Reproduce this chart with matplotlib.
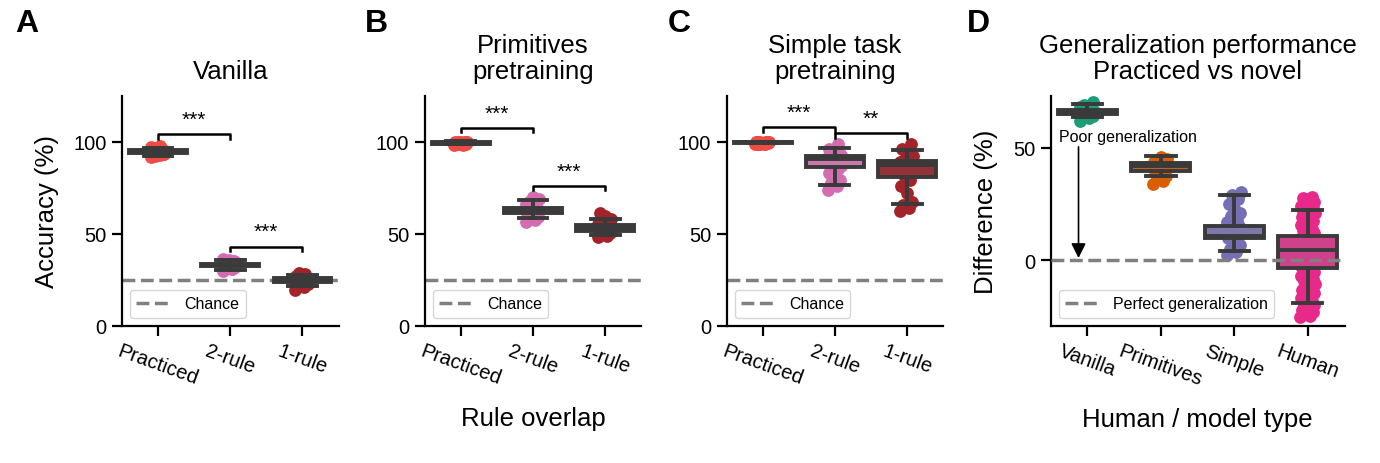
import colorsys
import numpy as np
import matplotlib
matplotlib.use("Agg")
import matplotlib.pyplot as plt
import matplotlib.colors as mcolors

plt.rcParams["font.family"] = ["Liberation Sans", "DejaVu Sans"]

# ---------------------------
# data
# ---------------------------
rule_cats = ["Practiced", "2-rule", "1-rule"]
model_cats = ["Vanilla", "Primitives", "Simple", "Human"]

rule_colors = ["#ee4b45", "#d46cb0", "#a3232a"]
model_colors = ["#1b9e77", "#d95f02", "#7570b3", "#e7298a"]

# individual runs (accuracy, %)
van_practiced = [91.5, 92.5, 93, 93.5, 94, 94, 94.5, 95, 95, 95.5, 96, 96, 96.5, 97, 97.5, 92, 93.5, 95, 96, 94.5]
van_2rule = [30, 31, 31.5, 32, 32.5, 33, 33, 33.5, 34, 34, 34.5, 35, 35.5, 36, 31, 32.5, 33.5, 34, 35, 32]
van_1rule = [19.5, 21, 22, 22.5, 23, 23.5, 24, 24.5, 25, 25, 25.5, 26, 26.5, 27, 28, 28.5, 24, 25.5, 23, 26]

prim_practiced = [98, 98.5, 99, 99, 99.5, 99.5, 100, 100, 100, 99, 98.5, 99.5, 100, 99, 98, 99.5, 100, 99, 100, 99.5]
prim_2rule = [56.5, 57.5, 58, 59, 60, 61, 61.5, 62, 62.5, 63, 63.5, 64, 65, 66, 67, 68, 69, 70, 62, 64]
prim_1rule = [48, 49, 50, 50.5, 51, 51.5, 52, 52.5, 53, 53, 53.5, 54, 55, 55.5, 56, 57, 58, 59.5, 61, 52]

simp_practiced = [98.5, 99, 99, 99.5, 99.5, 100, 100, 100, 100, 99.5, 99, 100, 99.5, 100, 98.5, 99, 100, 99.5, 100, 99.8]
simp_2rule = [74, 76, 77.5, 79, 81, 83, 85, 86, 87, 88, 89, 90, 91, 91.5, 92, 92.5, 93, 94, 96, 98.5]
simp_1rule = [62.5, 64, 65.5, 67, 72, 76, 79, 81, 83, 85, 86, 87, 88, 89, 89.5, 90, 92, 94, 96, 98.5]

# practiced minus novel (difference, %)
diff_vanilla = [62, 63, 63.5, 64, 64.5, 65, 65, 65.5, 66, 66, 66.5, 67, 67.5, 68, 68.5, 69, 70, 64, 66, 67]
diff_primitives = [34, 35, 36.5, 37.5, 38.5, 39.5, 40, 40.5, 41, 41.5, 42, 42.5, 43, 43.5, 44, 44.5, 45, 46, 42, 41]
diff_simple = [2.5, 3.5, 5, 7, 9, 10, 10.5, 11, 12, 13, 14, 15, 16, 17, 18, 19.5, 21, 23, 25, 27, 29, 30.5]
diff_human = [-25, -24.5, -24, -23, -22.5, -22, -21, -20.5, -20, -19, -18.5, -18, -17, -16.5, -16, -15,
              -14.5, -13.5, -13, -12, -11.5, -10.5, -10, -9, -8.5, -8, -7, -6.5, -6, -5, -4.5, -4, -3.5,
              -3, -2.5, -2, -1.5, -1, -0.5, 0, 0.5, 1, 1.5, 2, 2.5, 3, 3.5, 4, 4.5, 5, 5.5, 6, 6.5, 7,
              7.5, 8, 8.5, 9, 9.5, 10, 10.5, 11, 11.5, 12, 13, 13.5, 14, 15, 15.5, 16, 17, 17.5, 18, 19,
              19.5, 20, 21, 21.5, 22, 23, 23.5, 24, 25, 25.5, 26, 27, 27.5, 28]

# box summaries: median, q1, q3, lower whisker, upper whisker
van_med = [94.5, 33, 25]
van_q1 = [93.7, 32.2, 23.8]
van_q3 = [95.3, 33.8, 25.8]
van_lo = [92, 30.5, 21.5]
van_hi = [96.5, 35.5, 27.5]

prim_med = [99.5, 62.5, 53]
prim_q1 = [99, 61.2, 51.3]
prim_q3 = [99.8, 64, 55]
prim_lo = [98.5, 58.7, 49.5]
prim_hi = [100.2, 68.5, 58]

simp_med = [99.8, 90.5, 87.5]
simp_q1 = [99.5, 86.5, 80.8]
simp_q3 = [100, 92, 89.6]
simp_lo = [99.3, 76.5, 66]
simp_hi = [100, 96.5, 95.5]

diff_med = [65.5, 42, 10.8, 4.5]
diff_q1 = [64.8, 39.8, 10, -3.4]
diff_q3 = [66.8, 43, 15.4, 11]
diff_lo = [63.5, 37.5, 4, -19]
diff_hi = [69.5, 46.3, 29, 22.5]

# significance brackets: (left, right, height, label)
van_sig = [(0, 1, 104, "***"), (1, 2, 43, "***")]
prim_sig = [(0, 1, 107.5, "***"), (1, 2, 76, "***")]
simp_sig = [(0, 1, 108, "***"), (1, 2, 104.5, "**")]

LINE = "#3a3a3a"


def desat(c, prop=0.75):
    r, g, b = mcolors.to_rgb(c)
    h, l, s = colorsys.rgb_to_hls(r, g, b)
    return colorsys.hls_to_rgb(h, l, s * prop)


def jitter(n, amount=0.1):
    # deterministic spread (golden ratio sequence)
    return ((np.arange(n) * 0.618034) % 1 - 0.5) * 2 * amount


def box_strip(ax, groups, med, q1, q3, lo, hi, colors):
    for i, vals in enumerate(groups):
        vals = np.asarray(vals)
        ax.scatter(i + jitter(len(vals)), vals, s=85, color=colors[i],
                   linewidths=0, zorder=1)
    stats = []
    for i in range(len(groups)):
        stats.append(dict(med=med[i], q1=q1[i], q3=q3[i],
                          whislo=lo[i], whishi=hi[i], fliers=[]))
    bp = ax.bxp(stats, positions=range(len(groups)), widths=0.8,
                patch_artist=True, showfliers=False,
                boxprops=dict(edgecolor=LINE, linewidth=2.8),
                whiskerprops=dict(color=LINE, linewidth=2.8),
                capprops=dict(color=LINE, linewidth=2.8),
                medianprops=dict(color=LINE, linewidth=2.8))
    for patch, c in zip(bp["boxes"], colors):
        patch.set_facecolor(desat(c))
        patch.set_zorder(2)
    for key in ("whiskers", "caps", "medians"):
        for ln in bp[key]:
            ln.set_zorder(2.5)


def style_axes(ax, cats):
    ax.spines["top"].set_visible(False)
    ax.spines["right"].set_visible(False)
    ax.spines["left"].set_linewidth(1.6)
    ax.spines["bottom"].set_linewidth(1.6)
    ax.tick_params(length=7, width=1.6, labelsize=14.5, pad=4)
    ax.set_xticks(range(len(cats)))
    ax.set_xticklabels(cats, rotation=-20, ha="center")
    ax.set_xlim(-0.5, len(cats) - 0.5)


def brackets(ax, sigs):
    for x1, x2, y, lab in sigs:
        ax.plot([x1, x1, x2, x2], [y - 2.5, y, y, y - 2.5], color="k", lw=1.8, zorder=4)
        ax.text((x1 + x2) / 2, y + 3, lab, ha="center", va="bottom", fontsize=15)


fig = plt.figure(figsize=(13.8, 4.64), dpi=100)
bottom, height = 0.2959, 0.4957
ax_a = fig.add_axes([0.0883, bottom, 0.157, height])
ax_b = fig.add_axes([0.3077, bottom, 0.157, height])
ax_c = fig.add_axes([0.5265, bottom, 0.157, height])
ax_d = fig.add_axes([0.7613, bottom, 0.2130, height])

panels = [
    (ax_a, [van_practiced, van_2rule, van_1rule], van_med, van_q1, van_q3, van_lo, van_hi, van_sig, "Vanilla"),
    (ax_b, [prim_practiced, prim_2rule, prim_1rule], prim_med, prim_q1, prim_q3, prim_lo, prim_hi, prim_sig,
     "Primitives\npretraining"),
    (ax_c, [simp_practiced, simp_2rule, simp_1rule], simp_med, simp_q1, simp_q3, simp_lo, simp_hi, simp_sig,
     "Simple task\npretraining"),
]
for ax, groups, md, a1, a3, lo, hi, sig, title in panels:
    ax.axhline(25, ls="--", color="grey", lw=2.5, label="Chance", zorder=0.5)
    box_strip(ax, groups, md, a1, a3, lo, hi, rule_colors)
    brackets(ax, sig)
    style_axes(ax, rule_cats)
    ax.set_ylim(0, 125)
    ax.set_yticks([0, 50, 100])
    ax.set_title(title, fontsize=18.5, pad=13, linespacing=1.1)
    ax.legend(loc="lower left", fontsize=11.5, handlelength=2.2)

ax_a.set_ylabel("Accuracy (%)", fontsize=18.5, labelpad=10)
ax_b.set_xlabel("Rule overlap", fontsize=18.5, labelpad=13)

# panel D
ax_d.axhline(0, ls="--", color="grey", lw=2.5, label="Perfect generalization", zorder=3)
box_strip(ax_d, [diff_vanilla, diff_primitives, diff_simple, diff_human],
          diff_med, diff_q1, diff_q3, diff_lo, diff_hi, model_colors)
style_axes(ax_d, model_cats)
ax_d.set_ylim(-29, 73)
ax_d.set_yticks([0, 50])
ax_d.set_title("Generalization performance\nPracticed vs novel", fontsize=18.5, pad=13, linespacing=1.1)
ax_d.set_ylabel("Difference (%)", fontsize=18.5, labelpad=11)
ax_d.set_xlabel("Human / model type", fontsize=18.5, labelpad=13)
ax_d.legend(loc="lower left", fontsize=11.5, handlelength=2.2)
ax_d.text(-0.39, 55, "Poor generalization", fontsize=11.5, ha="left", va="center")
ax_d.annotate("", xy=(-0.12, 1.0), xytext=(-0.12, 50.3),
              arrowprops=dict(arrowstyle="-|>", color="k", lw=1.2, mutation_scale=22,
                              shrinkA=0, shrinkB=0))

for lab, x in zip("ABCD", [15, 365, 668, 967]):
    fig.text(x / 1380, 1 - 9 / 464, lab, fontsize=23, fontweight="bold", va="top", ha="left")

fig.savefig("out.png", dpi=100)
